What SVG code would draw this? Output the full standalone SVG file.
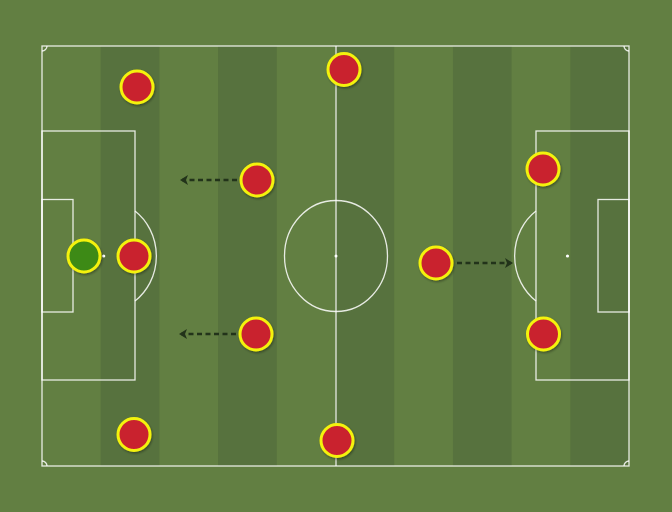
<svg xmlns="http://www.w3.org/2000/svg" width="672" height="512" viewBox="0 0 672 512">
<defs>
<style>
.line{fill:none;stroke:#ffffff;stroke-opacity:0.85;stroke-width:1.3}
.spot{fill:#ffffff}
.light{fill:#627f42}
.dark{fill:#57723e}
.player{stroke:#f4f20e;stroke-width:3;filter:url(#sh)}
.red{fill:#c9232f}
.gk{fill:#3c8a14}
.run{fill:none;stroke:#22331a;stroke-width:2.5;stroke-dasharray:5 3.5;marker-end:url(#ah)}
</style>
<filter id="sh" x="-30%" y="-30%" width="160%" height="160%">
<feDropShadow dx="1" dy="1.5" stdDeviation="1.2" flood-color="#000" flood-opacity="0.35"/>
</filter>
<marker id="ah" viewBox="0 0 10 10" refX="6" refY="5" markerWidth="4" markerHeight="4" orient="auto" markerUnits="strokeWidth">
<path d="M0,0 L8,5 L0,10 L2,5 Z" fill="#22331a"/>
</marker>
</defs>
<rect x="0" y="0" width="672" height="512" class="light"/>
<g id="pitch">
<rect x="100.7" y="46" width="58.7" height="420" class="dark"/>
<rect x="218.1" y="46" width="58.7" height="420" class="dark"/>
<rect x="335.5" y="46" width="58.7" height="420" class="dark"/>
<rect x="452.9" y="46" width="58.7" height="420" class="dark"/>
<rect x="570.3" y="46" width="58.7" height="420" class="dark"/>
<rect x="42" y="46" width="587" height="420" class="line"/>
<line x1="336" y1="46" x2="336" y2="466" class="line"/>
<ellipse cx="336" cy="256" rx="51.5" ry="55.5" class="line"/>
<circle cx="336" cy="256" r="1.5" class="spot"/>
<rect x="42" y="131" width="93" height="249" class="line"/>
<rect x="42" y="199.5" width="31" height="112.5" class="line"/>
<circle cx="103.7" cy="256" r="1.6" class="spot"/>
<path d="M135,211 A51.5 55.5 0 0 1 135,301" class="line"/>
<rect x="536" y="131" width="93" height="249" class="line"/>
<rect x="598" y="199.5" width="31" height="112.5" class="line"/>
<circle cx="567.5" cy="256" r="1.6" class="spot"/>
<path d="M536,211 A51.5 55.5 0 0 0 536,301" class="line"/>
<path d="M42,51 A5 5 0 0 0 47,46" class="line"/>
<path d="M624,46 A5 5 0 0 0 629,51" class="line"/>
<path d="M47,466 A5 5 0 0 0 42,461" class="line"/>
<path d="M629,461 A5 5 0 0 0 624,466" class="line"/>
</g>
<g id="connectors">
<line x1="237" y1="180" x2="182" y2="180" class="run"/>
<line x1="236" y1="334" x2="181" y2="334" class="run"/>
<line x1="457" y1="263" x2="511" y2="263" class="run"/>
</g>
<g id="gk"><circle cx="84" cy="256" r="16" class="player gk"/></g>
<g id="p1"><circle cx="137" cy="87" r="16" class="player red"/></g>
<g id="p2"><circle cx="344" cy="69.5" r="16" class="player red"/></g>
<g id="p3"><circle cx="257" cy="180" r="16" class="player red"/></g>
<g id="p4"><circle cx="134" cy="256" r="16" class="player red"/></g>
<g id="p5"><circle cx="256" cy="334" r="16" class="player red"/></g>
<g id="p6"><circle cx="134" cy="434.5" r="16" class="player red"/></g>
<g id="p7"><circle cx="337" cy="440.5" r="16" class="player red"/></g>
<g id="p8"><circle cx="543" cy="169" r="16" class="player red"/></g>
<g id="p9"><circle cx="436" cy="263" r="16" class="player red"/></g>
<g id="p10"><circle cx="543.5" cy="334" r="16" class="player red"/></g>
</svg>
